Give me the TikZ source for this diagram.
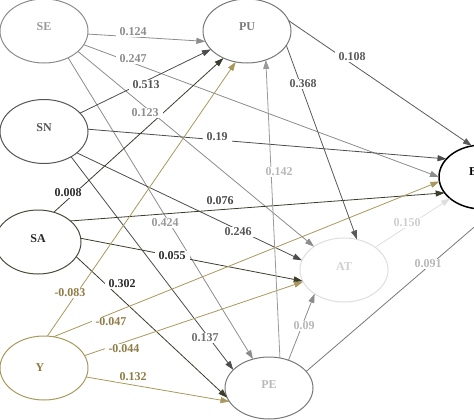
\documentclass[tikz,border=0pt]{standalone}
\usepackage{fontspec}
\setmainfont{Liberation Serif}
\usetikzlibrary{shapes.geometric,arrows.meta}
\definecolor{cSE}{HTML}{8C8C8C}
\definecolor{cSEt}{HTML}{999999}
\definecolor{cSN}{HTML}{555555}
\definecolor{cSNe}{HTML}{4D4D4D}
\definecolor{cSA}{HTML}{4C4A3A}
\definecolor{cSAe}{HTML}{3C3C2C}
\definecolor{cSAt}{HTML}{2A2A2A}
\definecolor{cY}{HTML}{A8985C}
\definecolor{cYt}{HTML}{8F7C45}
\definecolor{cPU}{HTML}{777777}
\definecolor{cPUe}{HTML}{5A5A5A}
\definecolor{cAT}{HTML}{DEDEDE}
\definecolor{cATt}{HTML}{CFCFCF}
\definecolor{cPE}{HTML}{777777}
\definecolor{cPEt}{HTML}{B8B8B8}
\begin{document}
\begin{tikzpicture}[x=1pt,y=-1pt,
  ell/.style={ellipse, draw, line width=1pt, inner sep=0pt, outer sep=0pt,
    minimum width=88pt, minimum height=64pt, font=\fontsize{12}{14}\selectfont\bfseries},
  edge/.style={line width=0.8pt, -{Triangle[length=9pt,width=6pt]}},
  lbl/.style={fill=white, inner xsep=4pt, inner ysep=1pt, font=\fontsize{12}{14}\selectfont\bfseries}]
\useasboundingbox (0,0) rectangle (474,420);
% constructs
\node[ell, draw=cSE, text=cSEt] (SE) at (44,31) {\smash{SE}};
\node[ell, draw=cSN, text=cSN] (SN) at (44,131.5) {\smash{SN}};
\node[ell, draw=cSA, text=cSAt, minimum width=86pt] (SA) at (38,242) {\smash{SA}};
\node[ell, draw=cY, text=cYt] (Y) at (44,368) {\hspace*{-8pt}Y};
\node[ell, draw=cPU, text=cPU] (PU) at (247,31) {\smash{PU}};
\node[ell, draw=cAT, text=cATt] (AT) at (344,270) {\smash{AT}};
\node[ell, draw=cPE, text=cPEt, minimum height=62pt] (PE) at (269,388) {\smash{PE}};
\node[ell, draw=black, line width=1.5pt, minimum width=86pt] (BI) at (482,177) {};
\node[anchor=west, inner sep=0pt, font=\fontsize{12}{14}\selectfont\bfseries, text=black] (BIt) at (469,172) {BI};
% paths from SE
\draw[edge, cSE] (SE.-4) -- (PU.194);
\draw[edge, cSE] (SE.-19) -- (BI.180);
\draw[edge, cSE] (SE.-31) -- (AT.142);
\draw[edge, cSE] (SE.-48) -- (PE.119);
% paths from SN
\draw[edge, cSNe] (SN.27) -- (PU.207);
\draw[edge, cSNe] (SN.3) -- (BI.153);
\draw[edge, cSNe] (SN.-33) -- (AT.167);
\draw[edge, cSNe] (SN.-43) -- (PE.153);
% paths from SA
\draw[edge, cSAe] (SA.62) -- (PU.229);
\draw[edge, cSAe] (SA.33) -- (BI.203);
\draw[edge, cSAe] (SA.5) -- (AT.195);
\draw[edge, cSAe] (SA.-21) -- (PE.193);
% paths from Y
\draw[edge, cY] (Y.84) -- (PU.250);
\draw[edge, cY] (Y.73) -- (BI.186);
\draw[edge, cY] (Y.17) -- (AT.196);
\draw[edge, cY] (Y.-12) -- (PE.199);
% paths from PU
\draw[edge, cPUe] (PU.14) -- (BI.108);
\draw[edge, cPUe] (PU.-20) -- (AT.67);
% paths from PE
\draw[edge, black!40] (PE.70) -- (PU.303);
\draw[edge, black!45] (PE.55) -- (AT.219);
\draw[edge, black!53] (PE.24) -- (BI.-62);
% path from AT
\draw[edge, cAT] (AT.36) -- (BI.214);
% coefficients
\node[lbl, text=cSE] (l1) at (133,32) {0.124};
\node[lbl, text=cSE] (l2) at (133,59) {0.247};
\node[lbl, text=cSN] (l3) at (146,85) {0.513};
\node[lbl, text=cSE] (l4) at (145,113) {0.123};
\node[lbl, text=cSN] (l5) at (217,137) {0.19};
\node[lbl, text=cPUe] (l6) at (352,57) {0.108};
\node[lbl, text=cPUe] (l7) at (303,84) {0.368};
\node[lbl, text=cPEt] (l8) at (279,172) {0.142};
\node[lbl, text=cSAt] (l9) at (68,193) {0.008};
\node[lbl, text=cSAt!85!white] (l10) at (220,201) {0.076};
\node[lbl, text=cSEt] (l11) at (165,223) {0.424};
\node[lbl, text=cSN] (l12) at (238,232) {0.246};
\node[lbl, text=cSAt] (l13) at (172,256) {0.055};
\node[lbl, text=cATt] (l14) at (407,223) {0.150};
\node[lbl, text=cPEt] (l15) at (428,264) {0.091};
\node[lbl, text=cYt] (l16) at (70,293) {-0.083};
\node[lbl, text=cSAt] (l17) at (122,284) {0.302};
\node[lbl, text=cYt] (l18) at (111,322) {-0.047};
\node[lbl, text=cSN!85!white] (l19) at (205,338) {0.137};
\node[lbl, text=cPEt] (l20) at (304,326) {0.09};
\node[lbl, text=cYt] (l21) at (124,349) {-0.044};
\node[lbl, text=cYt] (l22) at (133,377) {0.132};
\end{tikzpicture}
\end{document}
